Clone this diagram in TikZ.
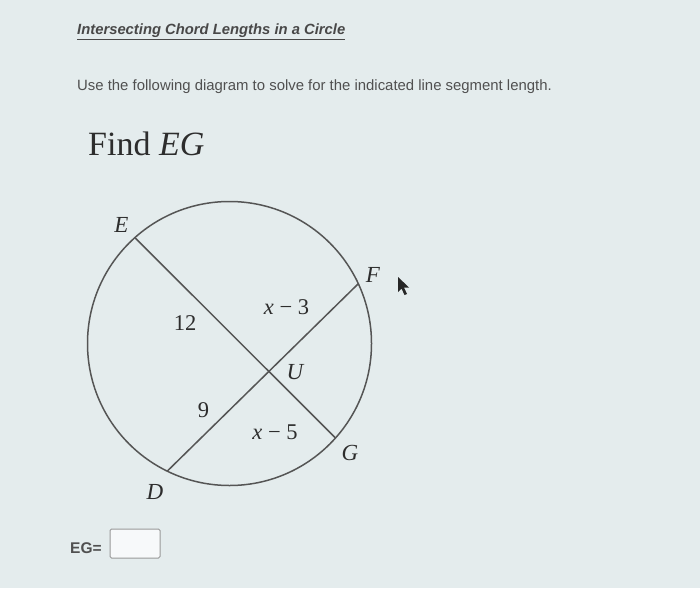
\documentclass[tikz,border=0pt]{standalone}
\usepackage{fontspec}
\setmainfont{Liberation Serif}
\newfontfamily\uisans{Liberation Sans}
\usetikzlibrary{calc}
\definecolor{bgc}{RGB}{228,236,237}
\definecolor{inkc}{RGB}{85,85,85}
\definecolor{labc}{RGB}{45,45,45}
\definecolor{uic}{RGB}{80,80,80}
\tikzset{
  geo/.style={draw=inkc, line width=1.5pt},
  lab/.style={text=labc, font=\fontsize{22.5}{24}\selectfont, inner sep=0pt},
  ptlab/.style={text=labc, font=\fontsize{23}{25}\selectfont\itshape, inner sep=0pt},
  uitext/.style={text=uic, inner sep=0pt, anchor=base west},
}
\begin{document}
\begin{tikzpicture}[x=1pt,y=-1pt]
\fill[bgc] (0,0) rectangle (700,588);
\useasboundingbox (0,0) rectangle (700,588);
% texts
\node[uitext, font=\uisans\bfseries\itshape\fontsize{14.8}{16}\selectfont, text=uic!90!black] (title) at (77,35) {\underline{Intersecting Chord Lengths in a Circle}};
\node[uitext, font=\uisans\fontsize{14.9}{16}\selectfont] (instr) at (77,91) {Use the following diagram to solve for the indicated line segment length.};
\node[uitext, text=labc, font=\fontsize{34}{36}\selectfont] (find) at (88,155) {Find \textit{EG}};
% circle and chords
\coordinate (O) at (229.5,343.5);
\draw[geo] (O) circle[radius=142];
\coordinate (E) at ($(O)+(-131.8:142)$);
\coordinate (F) at ($(O)+(-24.9:142)$);
\coordinate (G) at ($(O)+(41.7:142)$);
\coordinate (D) at ($(O)+(116:142)$);
\draw[geo] (E) -- (G);
\draw[geo] (D) -- (F);
% labels
\node[ptlab] (lE) at (121.5,225) {E};
\node[ptlab] (lF) at (373,275) {F};
\node[ptlab] (lU) at (295,372) {U};
\node[ptlab] (lG) at (350,453) {G};
\node[ptlab] (lD) at (155,492) {D};
\node[lab] (l12) at (185,323.5) {12};
\node[lab] (lx3) at (286.5,307) {\textit{x} − 3};
\node[lab] (l9) at (203.5,410) {9};
\node[lab] (lx5) at (275,432) {\textit{x} − 5};
% answer field
\node[uitext, font=\uisans\bfseries\fontsize{15.5}{17}\selectfont] (eg) at (70,553) {EG=};
\node[draw=black!40, line width=1pt, fill=white!70!bgc, rounded corners=1.5pt, minimum width=50pt, minimum height=29pt, anchor=north west, inner sep=0pt] (box) at (109.5,528.5) {};
% cursor
\fill[black!85] (398,277) -- (398,292) -- (401.5,288.5) -- (404.5,295) -- (407,294) -- (404,287.5) -- (409,287.5) -- cycle;
\end{tikzpicture}
\end{document}
